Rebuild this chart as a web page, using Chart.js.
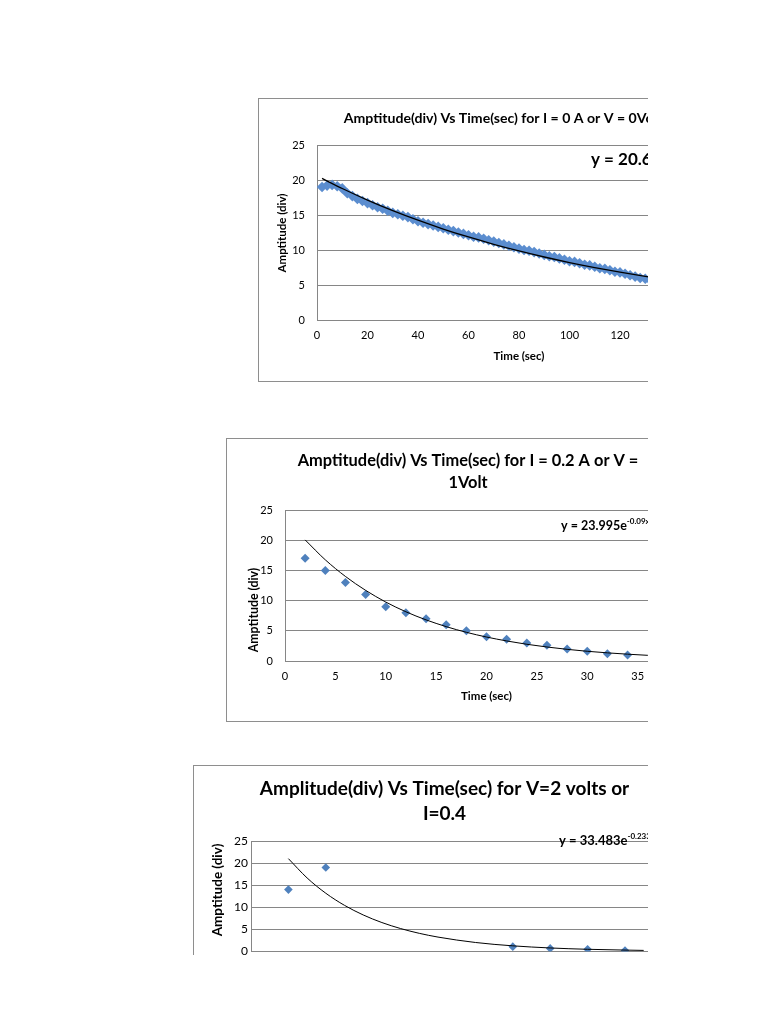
<!DOCTYPE html>
<html><head><meta charset="utf-8">
<script src="https://cdn.jsdelivr.net/npm/chart.js@4.4.1/dist/chart.umd.min.js"></script>
<style>
html,body{margin:0;padding:0;background:#fff;}
body{width:768px;height:1024px;position:relative;overflow:hidden;}
.clip{position:absolute;overflow:hidden;}
.clip canvas{position:absolute;left:0;top:0;}
</style></head><body>
<div class="clip" style="left:258px;top:98px;width:390px;height:284px"><canvas id="c1" width="490" height="284"></canvas></div>
<div class="clip" style="left:226px;top:438px;width:422px;height:284px"><canvas id="c2" width="484" height="284"></canvas></div>
<div class="clip" style="left:193px;top:765px;width:455px;height:190px"><canvas id="c3" width="503" height="284"></canvas></div>
<script>
// ---------- DATA ----------
const yTicks = [0, 5, 10, 15, 20, 25];

// Chart 1: I = 0 A
const c1Time = [2,4,6,8,10,12,14,16,18,20,22,24,26,28,30,32,34,36,38,40,42,44,46,48,50,52,54,56,58,60,62,64,66,68,70,72,74,76,78,80,82,84,86,88,90,92,94,96,98,100,102,104,106,108,110,112,114,116,118,120,122,124,126,128,130,132,134,136,138,140];
const c1Amp  = [19.0,19.2,19.3,19.1,18.8,18.1,17.7,17.3,17.0,16.7,16.4,16.1,15.9,15.6,15.3,15.1,14.9,14.7,14.4,14.1,13.9,13.7,13.5,13.3,13.1,12.9,12.7,12.5,12.3,12.1,11.9,11.8,11.6,11.4,11.2,11.0,10.8,10.6,10.4,10.2,10.0,9.9,9.7,9.5,9.3,9.1,9.0,8.8,8.6,8.4,8.3,8.1,7.9,7.8,7.6,7.4,7.3,7.1,6.9,6.8,6.6,6.4,6.2,6.0,5.9,5.7,5.6,5.4,5.3,5.1];
const c1TrendTime = [2,10,20,30,40,50,60,70,80,90,100,110,120,130,140];
const c1TrendAmp  = [20.23,18.79,17.14,15.63,14.26,13.00,11.86,10.82,9.87,9.00,8.21,7.49,6.83,6.23,5.68];
const c1XTicks = [0,20,40,60,80,100,120,140,160];

// Chart 2: I = 0.2 A
const c2Time = [2,4,6,8,10,12,14,16,18,20,22,24,26,28,30,32,34];
const c2Amp  = [17,15,13,11,9,8,7,6,5,4,3.6,3,2.6,2,1.6,1.2,1];
const c2TrendTime = [2,4,6,8,10,12,14,16,18,20,22,24,26,28,30,32,34,36,38];
const c2TrendAmp  = [20.05,16.75,14.0,11.7,9.76,8.15,6.81,5.69,4.75,3.97,3.32,2.77,2.32,1.93,1.61,1.35,1.13,0.94,0.79];
const c2XTicks = [0,5,10,15,20,25,30,35,40];

// Chart 3: V = 2 volts
const c3Time = [2,4,14,16,18,20];
const c3Amp  = [14,19,1.1,0.7,0.5,0.2];
const c3TrendTime = [2,3,4,5,6,7,8,9,10,12,14,16,18,20,21];
const c3TrendAmp  = [21.01,16.64,13.18,10.44,8.27,6.55,5.19,4.11,3.26,2.04,1.28,0.80,0.50,0.32,0.25];
const c3XTicks = [0,5,10,15,20];

// ---------- DRAWING ----------
const FONT = 'Lato, "Open Sans", sans-serif';
const GRID = '#868686';

const framePlugin = {
  id: 'frame',
  beforeDraw(chart) {
    const c = chart.ctx;
    c.save();
    c.fillStyle = '#fff';
    c.fillRect(0, 0, chart.width, chart.height);
    c.strokeStyle = '#8e8e8e';
    c.lineWidth = 1;
    c.strokeRect(0.5, 0.5, chart.width - 1, chart.height - 1);
    c.restore();
  }
};
const eqPlugin = {
  id: 'eq',
  afterDatasetsDraw(chart, args, o) {
    const c = chart.ctx;
    c.save();
    c.fillStyle = '#000';
    c.textBaseline = 'middle';
    c.font = 'bold ' + o.size + 'px ' + FONT;
    c.fillText(o.main, o.x, o.y);
    const w = c.measureText(o.main).width;
    c.font = 'bold ' + Math.round(o.size * 0.65) + 'px ' + FONT;
    c.fillText(o.sup, o.x + w, o.y - o.size * 0.35);
    // vertical axis title
    c.translate(o.ytX, o.ytY);
    c.rotate(-Math.PI / 2);
    c.textAlign = 'center';
    c.font = 'bold ' + o.ytSize + 'px ' + FONT;
    c.fillText('Amptitude (div)', 0, 0);
    c.restore();
  }
};

function pts(xs, ys) { return xs.map((x, i) => ({x: x, y: ys[i]})); }

function build(id, k) {
  new Chart(document.getElementById(id), {
    type: 'scatter',
    data: { datasets: [
      { data: pts(k.tt, k.ta), showLine: true, borderColor: '#000', borderWidth: k.lw, pointRadius: 0,
        tension: 0.4, cubicInterpolationMode: 'monotone', fill: false },
      { data: pts(k.t, k.a), pointStyle: 'rectRot', pointRadius: k.r, backgroundColor: k.color,
        borderColor: k.color, borderWidth: 0, showLine: false }
    ]},
    options: {
      responsive: false, animation: false, devicePixelRatio: 1,
      layout: { padding: 0 },
      plugins: {
        legend: { display: false }, tooltip: { enabled: false },
        title: { display: true, text: k.title, color: '#000',
          font: { family: FONT, size: k.titleSize, weight: 'bold', lineHeight: k.titleLH },
          padding: { top: k.titleTop, bottom: k.titleBottom } },
        eq: k.eq
      },
      scales: {
        x: { type: 'linear', min: 0, max: k.xMax,
          afterBuildTicks: s => { s.ticks = k.xTicks.map(v => ({value: v})); },
          afterFit: s => { s.height = k.xHeight; },
          grid: { display: false, drawTicks: false },
          border: { display: true, color: GRID },
          ticks: { padding: k.xTickPad, color: '#000', font: { family: FONT, size: k.tickSize } },
          title: { display: true, text: 'Time (sec)', color: '#000',
            font: { family: FONT, size: k.axSize, weight: 'bold' }, padding: { top: 0, bottom: k.xTitlePad } } },
        y: { type: 'linear', min: 0, max: 25,
          afterBuildTicks: s => { s.ticks = yTicks.map(v => ({value: v})); },
          afterFit: s => { s.width = k.yWidth; },
          grid: { color: GRID, drawTicks: false },
          border: { display: true, color: GRID },
          ticks: { padding: k.yTickPad, color: '#000', font: { family: FONT, size: k.tickSize } },
          title: { display: false } },
        pad: { type: 'linear', position: 'right', display: true, min: 0, max: 1,
          grid: { display: false, drawTicks: false }, border: { display: false },
          ticks: { display: false }, title: { display: false },
          afterFit: s => { s.width = k.padRight; } }
      }
    },
    plugins: [framePlugin, eqPlugin]
  });
}

build('c1', { t: c1Time, a: c1Amp, tt: c1TrendTime, ta: c1TrendAmp, xMax: 160, xTicks: c1XTicks, r: 5.3, color: '#5B8DCF', lw: 1.3,
  title: 'Amptitude(div) Vs Time(sec) for I = 0 A or V = 0Volt', titleSize: 14.1, titleLH: 1.2, titleTop: 12.2, titleBottom: 17.9,
  padRight: 27, yWidth: 59, xHeight: 62, tickSize: 11, axSize: 11.5, xTickPad: 9, yTickPad: 12, xTitlePad: 19,
  eq: { x: 333, y: 62, size: 17, main: 'y = 20.604e', sup: '-0.009x', ytX: 24, ytY: 135, ytSize: 11.5 } });

build('c2', { t: c2Time, a: c2Amp, tt: c2TrendTime, ta: c2TrendAmp, xMax: 40, xTicks: c2XTicks, r: 4.5, color: '#4F81BD', lw: 1,
  title: ['Amptitude(div) Vs Time(sec) for I = 0.2 A or V =', '1Volt'], titleSize: 16.4, titleLH: 22/16.4, titleTop: 12, titleBottom: 16,
  padRight: 22, yWidth: 59, xHeight: 61, tickSize: 11, axSize: 11.5, xTickPad: 9, yTickPad: 12, xTitlePad: 19,
  eq: { x: 335, y: 88, size: 12.5, main: 'y = 23.995e', sup: '-0.09x', ytX: 28, ytY: 172, ytSize: 12.3 } });

build('c3', { t: c3Time, a: c3Amp, tt: c3TrendTime, ta: c3TrendAmp, xMax: 22, xTicks: c3XTicks, r: 4.3, color: '#4F81BD', lw: 1,
  title: ['Amplitude(div) Vs Time(sec) for V=2 volts or', 'I=0.4'], titleSize: 19, titleLH: 25/19, titleTop: 11.5, titleBottom: 14.5,
  padRight: 33.6, yWidth: 58, xHeight: 97.5, tickSize: 12, axSize: 12, xTickPad: 9, yTickPad: 3, xTitlePad: 19,
  eq: { x: 366, y: 76, size: 13, main: 'y = 33.483e', sup: '-0.233x', ytX: 25, ytY: 125, ytSize: 13.5 } });
</script>
</body></html>
